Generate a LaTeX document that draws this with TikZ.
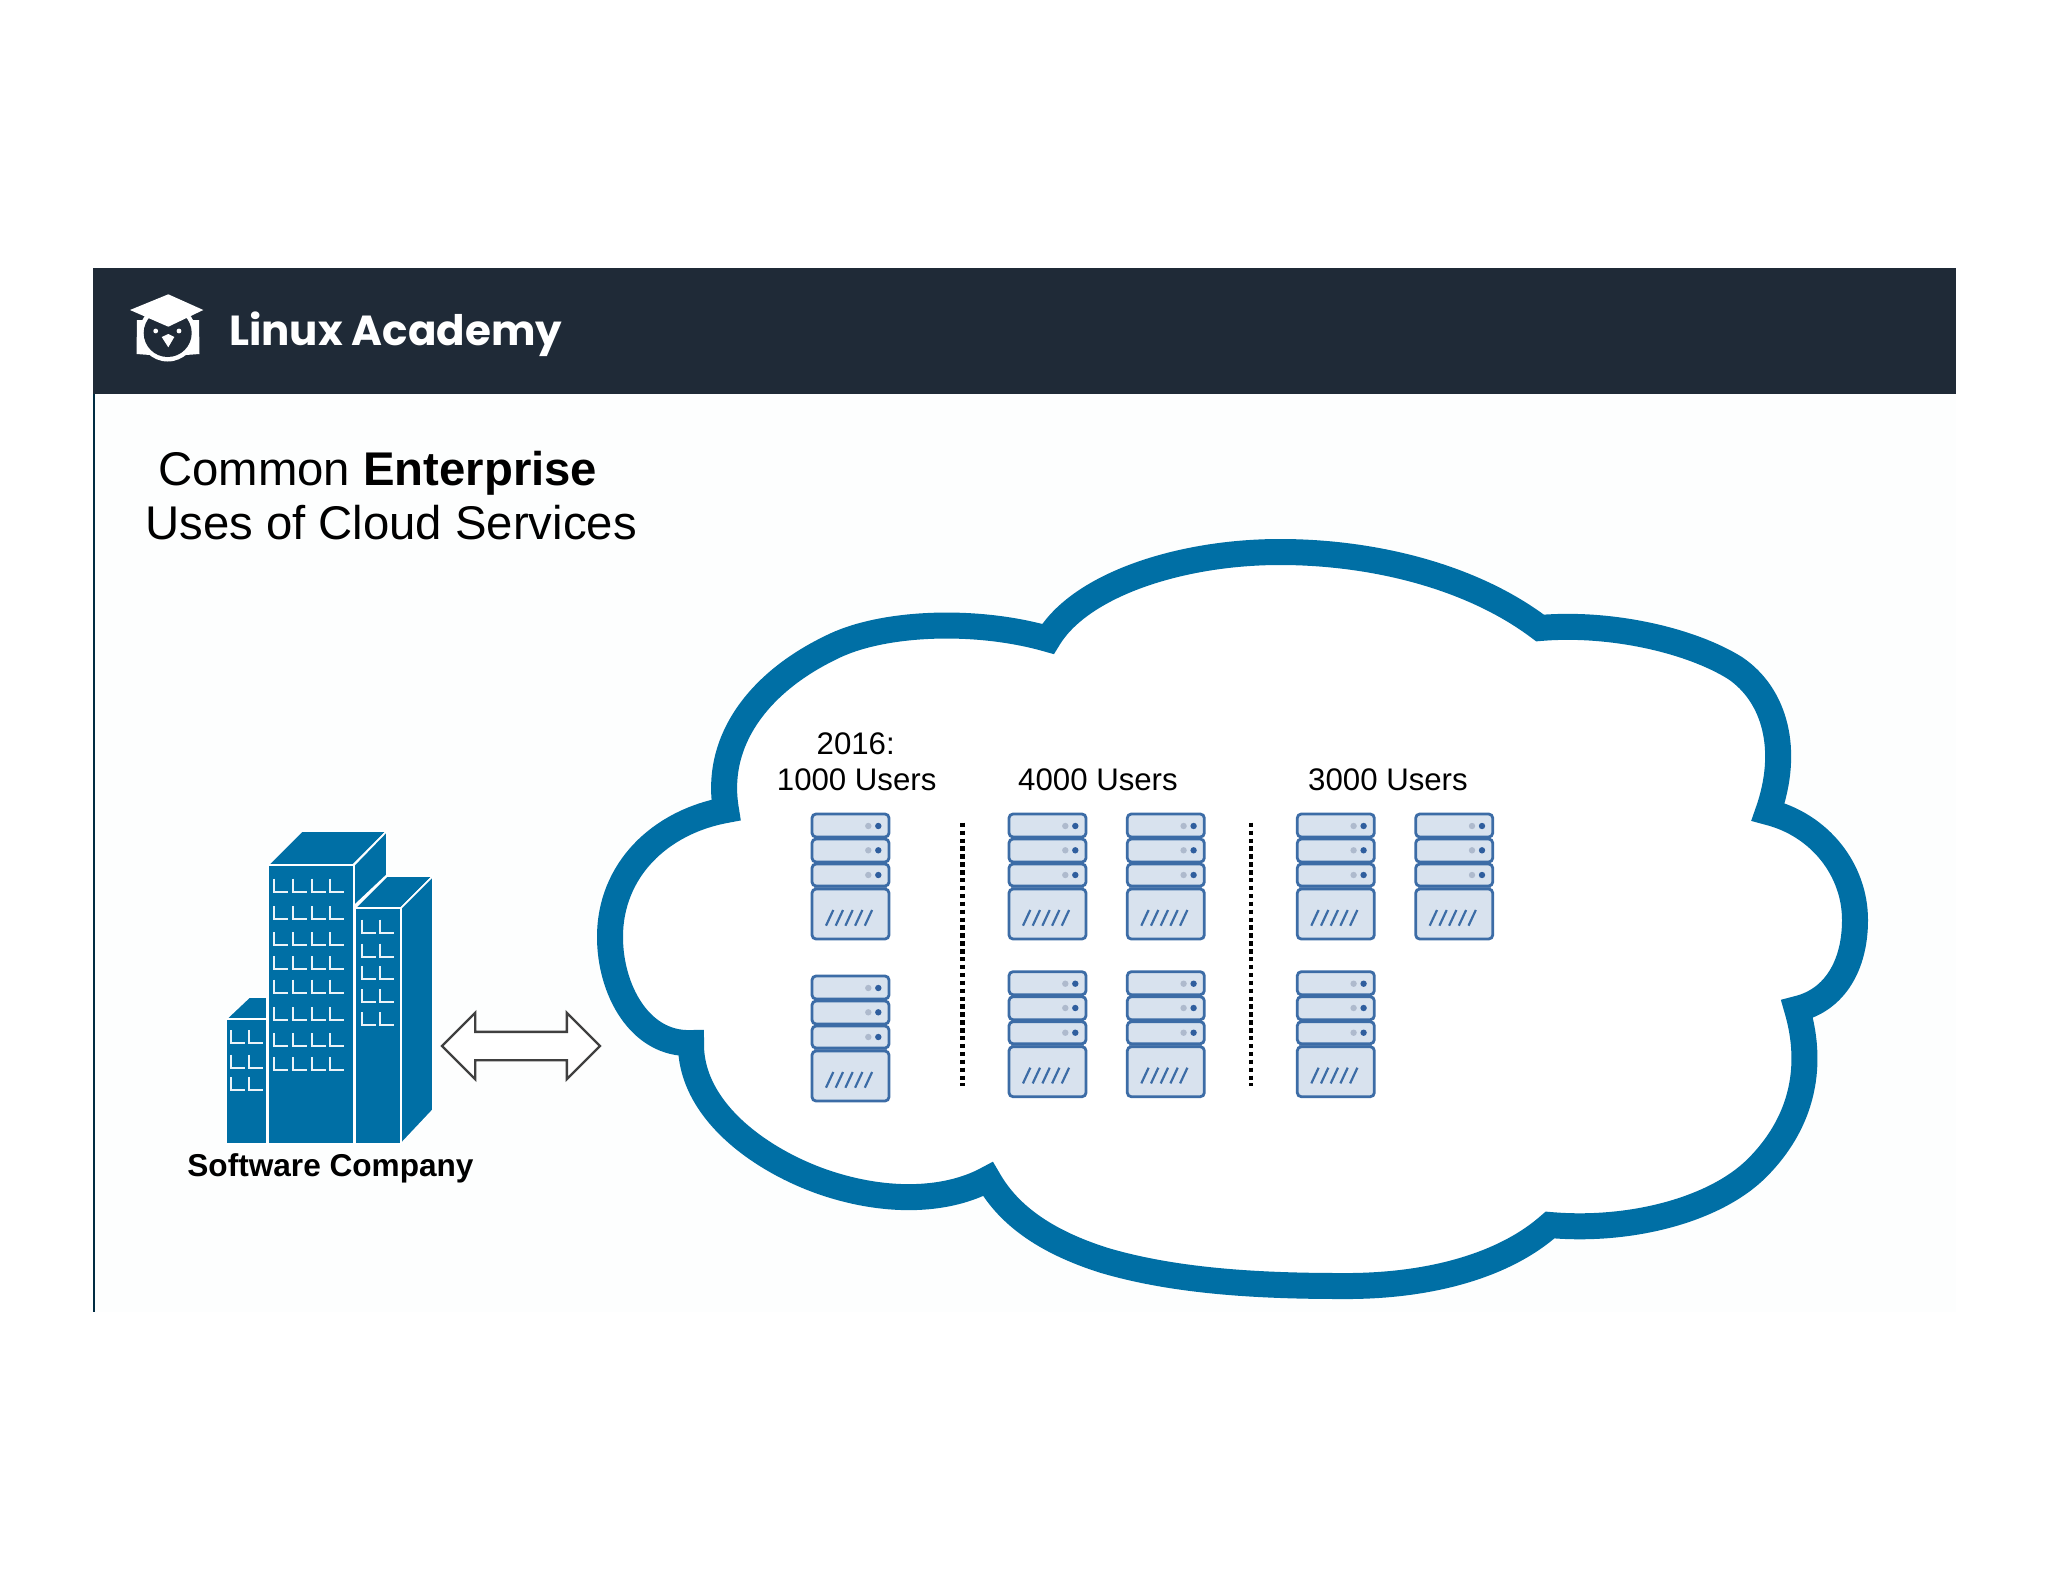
\documentclass[tikz,border=0pt]{standalone}
\usepackage{fontspec}
\setmainfont{Liberation Sans}
\newfontfamily\logofont{Poppins}
\usepackage{xcolor}
\usetikzlibrary{arrows.meta,positioning,shapes.arrows,calc}
\definecolor{headerdark}{HTML}{1F2A37}
\definecolor{cloudblue}{HTML}{006FA5}
\definecolor{rackedge}{HTML}{3C6CA6}
\definecolor{rackfill}{HTML}{D8E2EE}
\definecolor{rackgap}{HTML}{6F92BC}
\definecolor{ledoff}{HTML}{AEBACD}
\definecolor{ledon}{HTML}{2F5E9E}
\definecolor{slidebg}{HTML}{FDFEFE}
\tikzset{
  titletext/.style={inner sep=0pt, anchor=west, font=\fontsize{47.3}{54}\selectfont},
  userstext/.style={inner sep=0pt, font=\fontsize{31.2}{36}\selectfont},
  cloudline/.style={draw=cloudblue, line width=26pt, miter limit=10, fill=white},
  tower/.style={fill=cloudblue, draw=white, line width=1.6pt, line join=round},
  windowmark/.style={draw=white!92!cloudblue, line width=1.9pt},
  dotrule/.style={draw=black, line width=4.4pt, dash pattern=on 4.4pt off 3.5pt},
  linkarrow/.style={double arrow, draw=black!75, fill=white, line width=2.4pt, minimum height=158pt, minimum width=66pt, double arrow head extend=19pt, inner sep=13pt},
  rackslat/.style={draw=rackedge, fill=rackfill, line width=2.8pt, rounded corners=4pt},
  pics/serverstack/.style={code={
    \fill[rackgap] (2,10) rectangle (75,80);
    \path[rackslat] (0,0) rectangle (77,23);
    \path[rackslat] (0,25) rectangle (77,48);
    \path[rackslat] (0,50) rectangle (77,72);
    \path[rackslat] (0,75) rectangle (77,125);
    \foreach \ledy in {12,36.3,61} {
      \fill[ledoff] (56.3,\ledy) circle (3.2pt);
      \fill[ledon] (66.3,\ledy) circle (3.2pt);
    }
    \foreach \slash in {0,1,2,3,4} {
      \draw[rackedge, line width=2.2pt] (14+\slash*9.7,111.7) -- ++(7.3,-15.7);
    }
  }},
}
\begin{document}
\begin{tikzpicture}[x=1pt,y=-1pt]
  \useasboundingbox (0,0) rectangle (2048,1582);
  % Slide and header
  \fill[slidebg] (94,394) rectangle (1956,1312);
  \fill[headerdark] (93,268) rectangle (1956,393.5);
  \draw[black!60!cloudblue, line width=2pt] (94,394) -- (94,1312);
  % Logo
  \fill[white] (137,320) -- (136.5,354) -- (150,355) -- (186,355) -- (199.5,354) -- (199,320) -- cycle;
  \fill[white] (167.7,333) circle (28.5pt);
  \fill[headerdark] (167.7,333) circle (24pt);
  \fill[white] (130,310) -- (168.3,294.3) -- (203.3,310) -- (168.3,326.7) -- cycle;
  \fill[white] (155.7,331) circle (2.4pt) (179,331) circle (2.4pt);
  \fill[white] (161.7,337) -- (168.3,334) -- (174.3,337) -- (168.3,347.3) -- cycle;
  \node[text=white, inner sep=0pt, anchor=west, font=\logofont\bfseries\fontsize{42}{48}\selectfont] (brand) at (229,334) {Linux Academy};
  % Title
  \node[titletext] (titleone) at (158,473) {Common \textbf{Enterprise}};
  \node[titletext, anchor=west] (titletwo) at (145,523) {Uses of Cloud Services};
  % Cloud
  \path[cloudline] (726,810) .. controls (714,740) and (760,682) .. (830,648)
    .. controls (880,622) and (975,618) .. (1048,639)
    .. controls (1080,585) and (1180,552) .. (1280,552)
    .. controls (1370,552) and (1470,575) .. (1540,628)
    .. controls (1610,622) and (1690,640) .. (1735,668)
    .. controls (1775,695) and (1790,750) .. (1768,812)
    .. controls (1820,825) and (1855,870) .. (1855,920)
    .. controls (1855,965) and (1835,1000) .. (1797,1009)
    .. controls (1815,1070) and (1800,1125) .. (1757,1168)
    .. controls (1715,1210) and (1630,1232) .. (1550,1225)
    .. controls (1505,1265) and (1430,1287) .. (1340,1286)
    .. controls (1250,1286) and (1170,1280) .. (1103,1260)
    .. controls (1050,1243) and (1010,1218) .. (988,1179)
    .. controls (950,1200) and (890,1205) .. (823,1182)
    .. controls (760,1160) and (690,1110) .. (691,1043)
    .. controls (640,1045) and (610,990) .. (610,937)
    .. controls (610,870) and (660,822) .. (726,810) -- cycle;
  % Building
  \path[tower] (226,1019) -- (249.3,997) -- (267,997) -- (267,1019) -- cycle;
  \path[tower] (226,1019) rectangle (267,1144);
  \path[tower] (268,865) -- (302,831) -- (387,831) -- (353,865) -- cycle;
  \path[tower] (354,865) -- (387,831) -- (387,875) -- (354,906) -- cycle;
  \path[tower] (268,865) rectangle (353.5,1144);
  \path[tower] (355,908) -- (387,876) -- (433,876) -- (401,908) -- cycle;
  \path[tower] (401,908) -- (433,876) -- (433,1110) -- (401,1144) -- cycle;
  \path[tower] (355,908) rectangle (401,1144);
  \foreach \winy in {891.7,919,945,969,992.7,1020,1046,1070} {
    \foreach \winx in {274.3,293.3,311.7,330} {\draw[windowmark] (\winx,\winy-13) -- (\winx,\winy) -- ++(14,0);}
  }
  \foreach \winy in {932.7,956.7,979.3,1002.3,1025} {
    \foreach \winx in {361.7,380} {\draw[windowmark] (\winx,\winy-13) -- (\winx,\winy) -- ++(14,0);}
  }
  \foreach \winy in {1043.3,1067.7,1090} {
    \foreach \winx in {230.7,249.3} {\draw[windowmark] (\winx,\winy-13) -- (\winx,\winy) -- ++(14,0);}
  }
  \node[inner sep=0pt, font=\bfseries\fontsize{31.6}{36}\selectfont] (company) at (330.5,1168) {Software Company};
  % Link
  \node[linkarrow] (link) at (521,1046) {};
  % Group labels
  \node[userstext] (yearlabel) at (855.7,743.5) {2016:};
  \node[userstext] (usersa) at (856.7,779.5) {1000 Users};
  \node[userstext] (usersb) at (1098,779.5) {4000 Users};
  \node[userstext] (usersc) at (1388,779.5) {3000 Users};
  % Servers
  \foreach \rackx/\racky in {812/814,812/976,1009/814,1127.3/814,1009/971.7,1127.3/971.7,1297.3/814,1415.7/814,1297.3/971.7} {
    \pic at (\rackx,\racky) {serverstack};
  }
  % Dotted separators
  \foreach \sepx in {962.3,1250.7} {\draw[dotrule] (\sepx,822.7) -- (\sepx,1086);}
\end{tikzpicture}
\end{document}
